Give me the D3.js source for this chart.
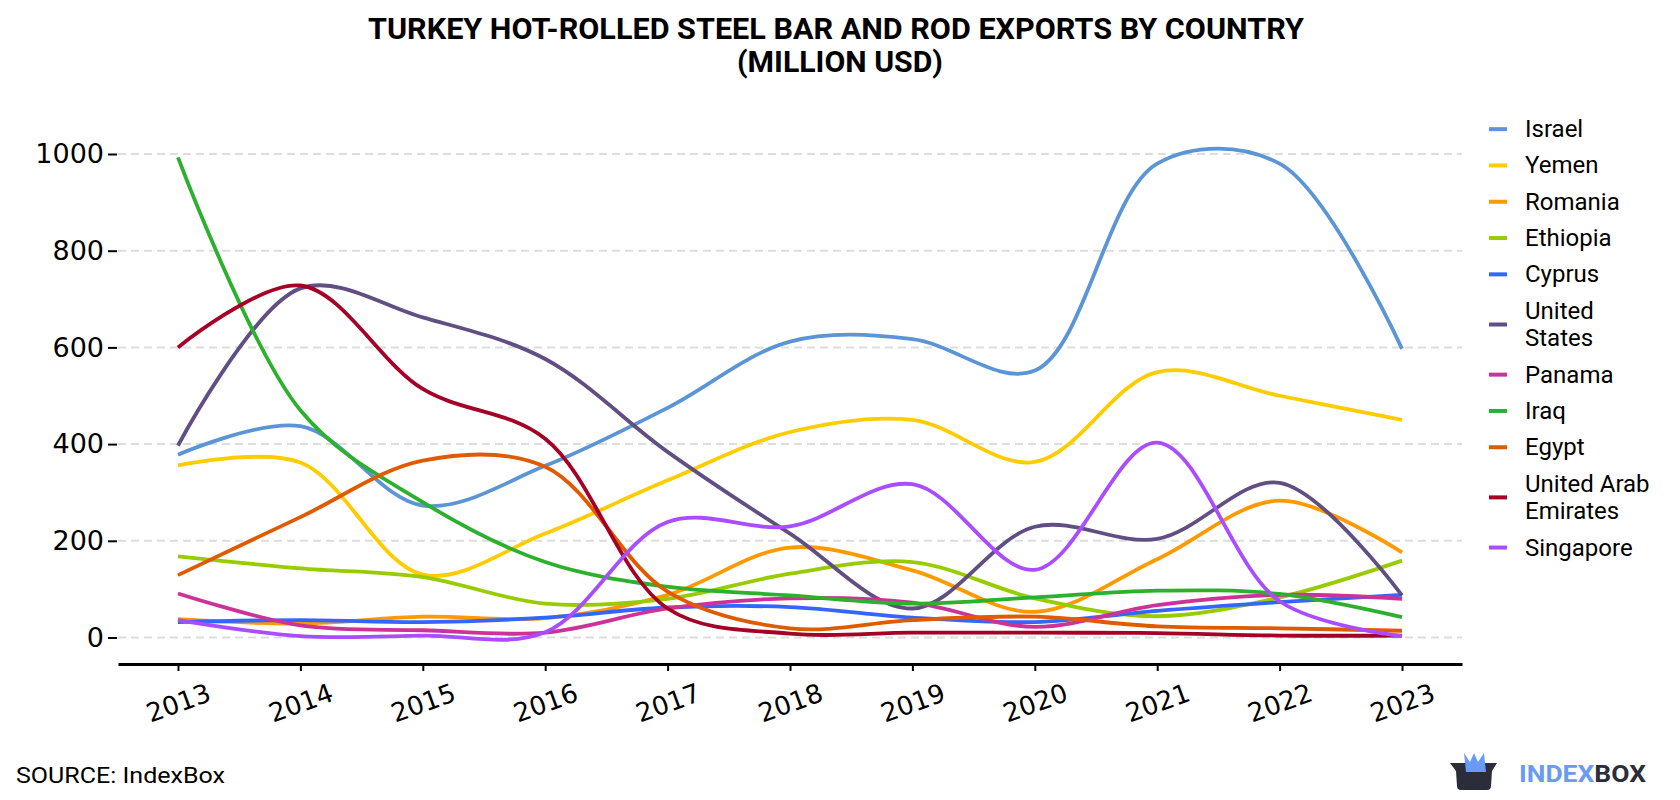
<!DOCTYPE html>
<html>
<head>
<meta charset="utf-8">
<script src="https://cdn.jsdelivr.net/npm/d3@7"></script>
<style>
  body { margin: 0; background: #fff; }
  svg { display: block; }
</style>
</head>
<body>
<div id="chart"></div>
<script>
'use strict';

// data (million USD)
const years = [2013, 2014, 2015, 2016, 2017, 2018, 2019, 2020, 2021, 2022, 2023];
const yTicks = [0, 200, 400, 600, 800, 1000];
const countries = ['Israel', 'Yemen', 'Romania', 'Ethiopia', 'Cyprus', 'United States', 'Panama', 'Iraq', 'Egypt', 'United Arab Emirates', 'Singapore'];
const legendLines = [['Israel'], ['Yemen'], ['Romania'], ['Ethiopia'], ['Cyprus'], ['United', 'States'], ['Panama'], ['Iraq'], ['Egypt'], ['United Arab', 'Emirates'], ['Singapore']];
const colors = ['#5b95d6', '#ffcc00', '#ff9900', '#99cc00', '#3366ff', '#614e82', '#cc3399', '#2db02d', '#e05a00', '#a50026', '#aa4cff'];

const israel    = [378, 437, 273, 355, 475, 612, 617, 552, 980, 980, 597];
const yemen     = [356, 362, 130, 215, 325, 425, 450, 363, 549, 500, 450];
const romania   = [38, 29, 43, 40, 88, 186, 139, 53, 162, 283, 176];
const ethiopia  = [168, 143, 125, 70, 80, 132, 156, 81, 44, 83, 159];
const cyprus    = [32, 36, 32, 41, 62, 63, 41, 32, 55, 73, 88];
const usa       = [397, 722, 662, 576, 384, 215, 60, 229, 204, 320, 87];
const panama    = [91, 25, 15, 10, 60, 81, 72, 22, 67, 88, 80];
const iraq      = [993, 470, 280, 156, 105, 87, 70, 83, 97, 90, 42];
const egypt     = [129, 249, 366, 353, 95, 19, 36, 43, 23, 19, 14];
const uae       = [600, 728, 514, 411, 60, 8, 10, 10, 9, 4, 4];
const singapore = [36, 3, 4, 11, 239, 230, 317, 140, 403, 75, 3];

const seriesValues = [israel, yemen, romania, ethiopia, cyprus, usa, panama, iraq, egypt, uae, singapore];

const w = 1680;
const h = 800;
const tickFont = '"DejaVu Sans", sans-serif';
const textFont = 'Roboto, "Noto Sans", sans-serif';

const svg = d3.select('#chart').append('svg')
  .attr('width', w)
  .attr('height', h);

// title
const title = svg.append('g')
  .attr('font-family', textFont)
  .attr('font-weight', 700)
  .attr('font-size', 30)
  .attr('fill', '#000')
  .attr('text-anchor', 'middle');
title.append('text')
  .attr('x', 836).attr('y', 39)
  .attr('textLength', 936)
  .attr('lengthAdjust', 'spacingAndGlyphs')
  .text('TURKEY HOT-ROLLED STEEL BAR AND ROD EXPORTS BY COUNTRY');
title.append('text')
  .attr('x', 840).attr('y', 72)
  .attr('textLength', 206)
  .attr('lengthAdjust', 'spacingAndGlyphs')
  .text('(MILLION USD)');

// scales: half a year of padding on each side of the x axis
const x = d3.scaleLinear()
  .domain([2012.51, 2023.49])
  .range([118, 1462]);
const y = d3.scaleLinear()
  .domain([0, 1000])
  .range([637.5, 154]);

// gridlines
svg.append('g')
  .attr('class', 'grid')
  .selectAll('line')
  .data(yTicks)
  .enter()
  .append('line')
  .attr('x1', 118)
  .attr('x2', 1462)
  .attr('y1', d => y(d))
  .attr('y2', d => y(d))
  .attr('stroke', '#dddddd')
  .attr('stroke-width', 2)
  .attr('stroke-dasharray', '8,5');

// y axis, ticks only
const yAxis = d3.axisLeft(y)
  .tickValues(yTicks)
  .tickSize(9)
  .tickPadding(4)
  .tickFormat(d3.format('d'));
const yAxisG = svg.append('g')
  .attr('transform', 'translate(117,0)')
  .call(yAxis);
yAxisG.select('.domain').remove();
yAxisG.selectAll('line').attr('stroke', '#000').attr('stroke-width', 2);
yAxisG.selectAll('text')
  .attr('font-family', tickFont)
  .attr('font-size', 27)
  .attr('fill', '#000');

// x axis
const xAxis = d3.axisBottom(x)
  .tickValues(years)
  .tickSize(7)
  .tickSizeOuter(0)
  .tickFormat(d3.format('d'));
const xAxisG = svg.append('g')
  .attr('transform', 'translate(0,664)')
  .call(xAxis);
xAxisG.select('.domain').attr('stroke', '#000').attr('stroke-width', 3);
xAxisG.selectAll('line').attr('stroke', '#000').attr('stroke-width', 2);
xAxisG.selectAll('text')
  .attr('font-family', tickFont)
  .attr('font-size', 26)
  .attr('fill', '#000')
  .attr('text-anchor', 'middle')
  .attr('dy', null)
  .attr('y', 0)
  .attr('transform', 'translate(0,39) rotate(-20)')
  .attr('dominant-baseline', 'central');

// series
const line = d3.line()
  .x((d, i) => x(years[i]))
  .y(d => y(d))
  .curve(d3.curveCatmullRom);

svg.append('g')
  .attr('class', 'series')
  .selectAll('path')
  .data(seriesValues)
  .enter()
  .append('path')
  .attr('d', d => line(d))
  .attr('fill', 'none')
  .attr('stroke', (d, i) => colors[i])
  .attr('stroke-width', 3.8)
  .attr('stroke-linejoin', 'round');

// legend
const legend = svg.append('g')
  .attr('class', 'legend')
  .attr('font-family', textFont)
  .attr('font-size', 24)
  .attr('fill', '#000');

const lineGap = 27.7;
const itemGap = 8.6;
let rowTop = 111;
legendLines.forEach(function (lines, i) {
  const itemH = lines.length * lineGap + itemGap;
  const cy = rowTop + itemH / 2;
  legend.append('line')
    .attr('x1', 1489).attr('x2', 1507)
    .attr('y1', cy).attr('y2', cy)
    .attr('stroke', colors[i])
    .attr('stroke-width', 4);
  lines.forEach(function (t, j) {
    legend.append('text')
      .attr('x', 1525)
      .attr('y', cy + (j - (lines.length - 1) / 2) * lineGap)
      .attr('dominant-baseline', 'central')
      .text(t);
  });
  rowTop += itemH;
});

// source
svg.append('text')
  .attr('x', 16).attr('y', 783)
  .attr('font-family', textFont)
  .attr('font-size', 22)
  .attr('fill', '#000')
  .attr('textLength', 209)
  .attr('lengthAdjust', 'spacingAndGlyphs')
  .text('SOURCE: IndexBox');

// logo
const logo = svg.append('g').attr('class', 'logo');
logo.append('path')
  .attr('d', 'M1450,763 L1497,763 L1492,771 L1491,786 Q1491,790 1487,790 L1461,790 Q1457,790 1457,786 L1456,771 Z')
  .attr('fill', '#2b2d3a');
logo.append('path')
  .attr('d', 'M1464,753 L1470,762 L1474,753 L1478,762 L1484,753 L1486,772 L1466,772 Z')
  .attr('fill', '#6a9bf4');
const logoText = logo.append('text')
  .attr('x', 1519).attr('y', 782)
  .attr('font-family', textFont)
  .attr('font-weight', 700)
  .attr('font-size', 24)
  .attr('textLength', 127)
  .attr('lengthAdjust', 'spacingAndGlyphs');
logoText.append('tspan').attr('fill', '#6a9bf4').text('INDEX');
logoText.append('tspan').attr('fill', '#2b2d3a').text('BOX');
</script>
</body>
</html>
